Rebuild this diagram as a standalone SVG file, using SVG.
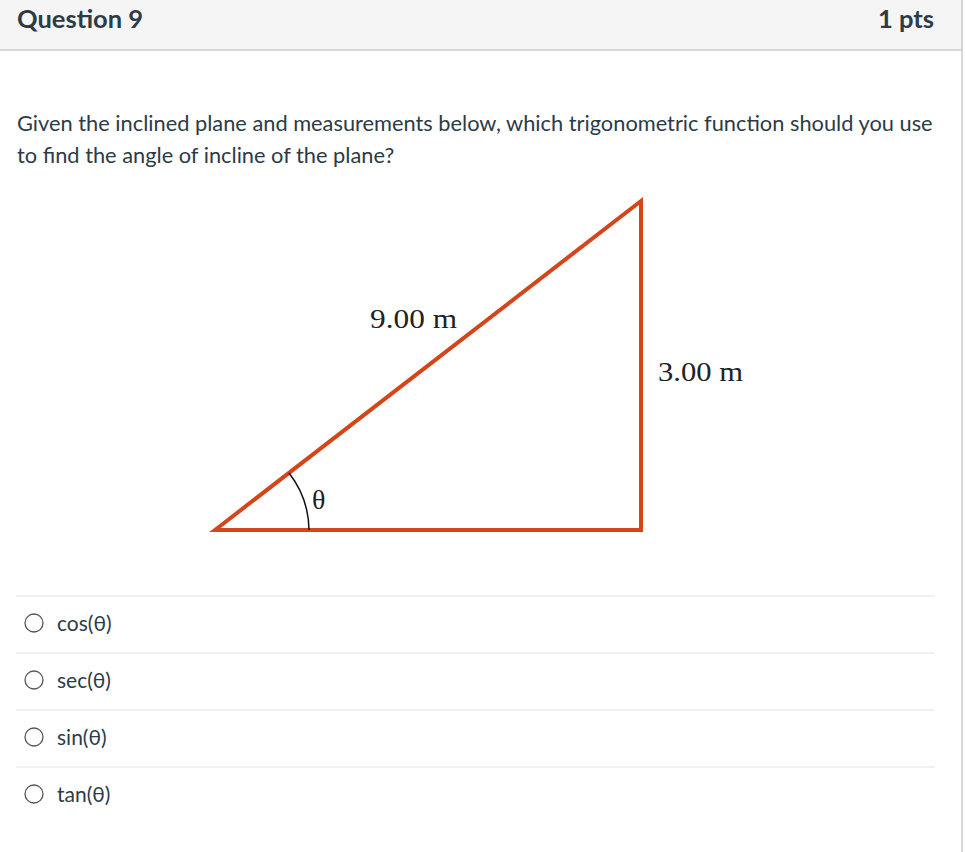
<svg xmlns="http://www.w3.org/2000/svg" width="965" height="852" viewBox="0 0 965 852">
<style>
.ui{font-family:Lato,"Open Sans","Liberation Sans",sans-serif;fill:#2d3b45}
.opt{font-size:21px}
.sep{stroke:#e3e3e3;stroke-width:1}
.radio{fill:#fff;stroke:#555;stroke-width:1.3}
.tri{fill:none;stroke:#d4451a;stroke-width:4;stroke-linejoin:miter}
.lbl{font-family:"Liberation Serif","DejaVu Serif",serif;font-size:28px;fill:#222}
</style>
<rect width="965" height="852" fill="#fff"/>
<g id="header">
<rect x="0" y="0" width="962" height="50" fill="#f5f5f5"/>
<line x1="0" y1="50" x2="962" y2="50" stroke="#c7cdd1" stroke-width="1.5"/>
<text class="ui" x="17" y="28" font-size="25.5" font-weight="bold">Question 9</text>
<text class="ui" x="934" y="28" font-size="25.5" font-weight="bold" text-anchor="end">1 pts</text>
</g>
<line x1="962" y1="0" x2="962" y2="852" stroke="#c7cdd1" stroke-width="1.5"/>
<g id="question">
<text class="ui" x="17" y="131" font-size="21.8">Given the inclined plane and measurements below, which trigonometric function should you use</text>
<text class="ui" x="17" y="163" font-size="21.8">to find the angle of incline of the plane?</text>
</g>
<g id="triangle">
<polygon class="tri" points="215,530 641,201 641,530"/>
<path d="M289,473 A94,94 0 0 1 309,530" fill="none" stroke="#111" stroke-width="1.5"/>
<text class="lbl" x="312" y="509" font-size="23">θ</text>
<text class="lbl" x="370" y="328" textLength="87" lengthAdjust="spacingAndGlyphs">9.00 m</text>
<text class="lbl" x="658" y="381" textLength="85" lengthAdjust="spacingAndGlyphs">3.00 m</text>
</g>
<g id="options">
<line class="sep" x1="16" y1="596" x2="935" y2="596"/>
<line class="sep" x1="16" y1="653" x2="935" y2="653"/>
<line class="sep" x1="16" y1="710" x2="935" y2="710"/>
<line class="sep" x1="16" y1="767" x2="935" y2="767"/>
<g id="opt-cos"><circle class="radio" cx="34" cy="623" r="9"/><text class="ui opt" x="57" y="631">cos(θ)</text></g>
<g id="opt-sec"><circle class="radio" cx="34" cy="680" r="9"/><text class="ui opt" x="57" y="688">sec(θ)</text></g>
<g id="opt-sin"><circle class="radio" cx="34" cy="737" r="9"/><text class="ui opt" x="57" y="745">sin(θ)</text></g>
<g id="opt-tan"><circle class="radio" cx="34" cy="794" r="9"/><text class="ui opt" x="57" y="802">tan(θ)</text></g>
</g>
</svg>
